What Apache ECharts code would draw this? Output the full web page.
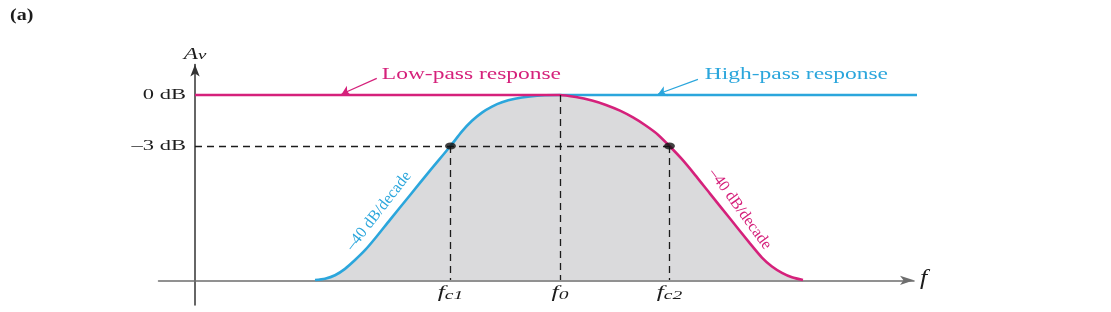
<!DOCTYPE html>
<html>
<head>
<meta charset="utf-8">
<script src="https://cdn.jsdelivr.net/npm/echarts@6/dist/echarts.min.js"></script>
<style>html,body{margin:0;padding:0;background:#fff}#c{width:1111px;height:312px}</style>
</head>
<body>
<div id="c"></div>
<script>
// ---- data (schematic) ----
const freqTicks = [7, 10, 13];
const freqTickLabels = ['{f|f}{s|c1}', '{f|f}{s|0}', '{f|f}{s|c2}'];
const gainTicks = [0, -3];
const gainTickLabels = ['0 dB', '\u20133 dB'];
const risingX = [3.288, 3.562, 3.836, 4.110, 4.384, 4.658, 4.932, 5.342, 5.890, 6.438, 7.0, 7.315, 7.589, 7.863, 8.137, 8.411, 8.767, 9.178, 9.589, 10];
const risingY = [-10.88, -10.80, -10.60, -10.224, -9.706, -9.129, -8.441, -7.341, -5.894, -4.447, -3.0, -2.141, -1.518, -1.035, -0.682, -0.429, -0.224, -0.088, -0.018, 0];
const fallingX = [10, 10.438, 10.877, 11.260, 11.644, 12.0, 12.329, 12.685, 13.0, 13.342, 13.699, 14.110, 14.658, 15.205, 15.534, 15.808, 16.082, 16.356, 16.658];
const fallingY = [0, -0.122, -0.329, -0.585, -0.922, -1.320, -1.765, -2.331, -3.0, -3.776, -4.694, -5.800, -7.265, -8.724, -9.559, -10.088, -10.459, -10.718, -10.88];
const passStartX = 0;
const passEndX = 20.05;
const baselineDb = -10.88;
const cutoffX = [7, 13];
const cutoffDb = -3;
const centerX = 10;
const responseNames = ['Low-pass response', 'High-pass response'];
const slopeText = '\u201340 dB/decade';

// ---- build ----
const serif = 'Liberation Serif';
const MAG = '#d5217b', CYAN = '#2ba6dc', GRAY = '#dadadc', INK = '#1c1c1c';
const xMin = -1, xMax = 19.7, yMin = -12.35, yMax = 1.8;

const rising = risingX.map((x, i) => [x, risingY[i]]);
const falling = fallingX.map((x, i) => [x, fallingY[i]]);
const highPass = rising.concat([[passEndX, 0]]);
const lowPass = [[passStartX, 0]].concat(falling);
const bandPass = rising.concat(falling.slice(1));

const chart = echarts.init(document.getElementById('c'));
const option = {
  animation: false,
  backgroundColor: '#fff',
  grid: {left: 158.5, right: 197, top: 64.4, bottom: 7, containLabel: false, outerBoundsMode: 'none'},
  xAxis: {
    type: 'value', min: xMin, max: xMax, offset: -24.7,
    axisLine: {onZero: false, symbol: ['none', 'arrow'], symbolSize: [7, 14], lineStyle: {color: '#6e6e6e', width: 1.5}},
    axisTick: {show: false}, splitLine: {show: false}, axisLabel: {show: false}
  },
  yAxis: {
    type: 'value', min: yMin, max: yMax,
    axisLine: {onZero: true, symbol: ['none', 'arrow'], symbolSize: [7, 12], lineStyle: {color: '#333', width: 1.5}},
    axisTick: {show: false}, splitLine: {show: false}, axisLabel: {show: false}
  },
  series: [
    {
      name: 'band', type: 'line', data: bandPass, smooth: 0.25,
      symbol: 'none', silent: true, z: 1,
      lineStyle: {width: 0}, areaStyle: {color: GRAY, opacity: 1, origin: baselineDb}
    },
    {
      name: 'guides', type: 'line', data: [], symbol: 'none', z: 3, silent: true,
      markLine: {
        silent: true, symbol: ['none', 'none'], label: {show: false},
        lineStyle: {type: [7, 5], color: INK, width: 1.3},
        data: [
          [{coord: [passStartX, cutoffDb]}, {coord: [cutoffX[1], cutoffDb]}],
          [{coord: [cutoffX[0], cutoffDb]}, {coord: [cutoffX[0], baselineDb]}],
          [{coord: [centerX, 0]}, {coord: [centerX, baselineDb]}],
          [{coord: [cutoffX[1], cutoffDb]}, {coord: [cutoffX[1], baselineDb]}]
        ]
      }
    },
    {
      name: responseNames[1], type: 'line', data: highPass, smooth: 0.25,
      symbol: 'none', clip: false, z: 4, lineStyle: {color: CYAN, width: 2.6}
    },
    {
      name: responseNames[0], type: 'line', data: lowPass, smooth: 0.25,
      symbol: 'none', clip: false, z: 4, lineStyle: {color: MAG, width: 2.6}
    },
    {
      name: 'cutoff', type: 'scatter', data: cutoffX.map(x => [x, cutoffDb]),
      symbol: 'circle', symbolSize: [11, 7], itemStyle: {color: '#111'}, z: 6, silent: true
    },
    {
      name: 'pointers', type: 'line', data: [], symbol: 'none', z: 5, silent: true,
      markLine: {
        silent: true, symbol: ['none', 'arrow'], symbolSize: 8, label: {show: false},
        data: [
          [{coord: [4.98, 0.98], lineStyle: {color: MAG, width: 1.2, type: 'solid'}}, {coord: [4.02, 0.06]}],
          [{coord: [13.78, 0.92], lineStyle: {color: CYAN, width: 1.2, type: 'solid'}}, {coord: [12.69, 0.06]}]
        ]
      }
    }
  ]
};
chart.setOption(option);

// ---- text, placed through the chart's own scales ----
function px(x, y) { return chart.convertToPixel({gridIndex: 0}, [x, y]); }
function label(pos, dx, dy, text, style, scaleX, rotationDeg) {
  return {
    type: 'text', x: pos[0] + dx, y: pos[1] + dy, z: 100, silent: true,
    scaleX: scaleX || 1, scaleY: 1,
    rotation: (rotationDeg || 0) * Math.PI / 180,
    style: Object.assign({text: text, fontFamily: serif}, style)
  };
}
const subRich = {
  f: {fontFamily: serif, fontStyle: 'italic', fontSize: 17, fill: INK, lineHeight: 18, verticalAlign: 'top'},
  s: {fontFamily: serif, fontStyle: 'italic', fontSize: 13, fill: INK, lineHeight: 18, verticalAlign: 'bottom', padding: [7, 0, 0, 0]}
};
const texts = [];
texts.push({type: 'text', x: 10, y: 16, z: 100, scaleX: 1.25, silent: true,
  style: {text: '(a)', fontFamily: serif, fontWeight: 'bold', fontSize: 16, fill: INK, align: 'left', verticalAlign: 'middle'}});
gainTicks.forEach((v, i) => texts.push(label(px(0, v), -9, 0, gainTickLabels[i],
  {fontSize: 15, fill: INK, align: 'right', verticalAlign: 'middle'}, 1.5)));
freqTicks.forEach((v, i) => texts.push(label(px(v, baselineDb), 0, 4, freqTickLabels[i],
  {align: 'center', verticalAlign: 'top', rich: subRich}, 1.5)));
texts.push(label(px(xMax, baselineDb), 6, -1, 'f',
  {fontStyle: 'italic', fontSize: 20, fill: INK, align: 'left', verticalAlign: 'middle'}, 1.3));
texts.push(label(px(0, yMax), 0, -2, '{a|A}{v|v}', {align: 'center', verticalAlign: 'bottom', rich: {
  a: {fontFamily: serif, fontStyle: 'italic', fontSize: 16, fill: INK, lineHeight: 16, verticalAlign: 'top'},
  v: {fontFamily: serif, fontStyle: 'italic', fontSize: 13, fill: INK, lineHeight: 16, verticalAlign: 'bottom', padding: [4, 0, 0, 0]}
}}, 1.45));
texts.push(label(px(5.12, 1.18), 0, 0, responseNames[0], {fontSize: 17, fill: MAG, align: 'left', verticalAlign: 'middle'}, 1.38));
texts.push(label(px(13.97, 1.18), 0, 0, responseNames[1], {fontSize: 17, fill: CYAN, align: 'left', verticalAlign: 'middle'}, 1.38));
texts.push(label(px(5.04, -6.82), 0, 0, slopeText, {fontSize: 16, fill: CYAN, align: 'center', verticalAlign: 'middle'}, 1, 52));
texts.push(label(px(14.93, -6.71), 0, 0, slopeText, {fontSize: 16, fill: MAG, align: 'center', verticalAlign: 'middle'}, 1, -54));
chart.setOption({graphic: texts});
</script>
</body>
</html>
